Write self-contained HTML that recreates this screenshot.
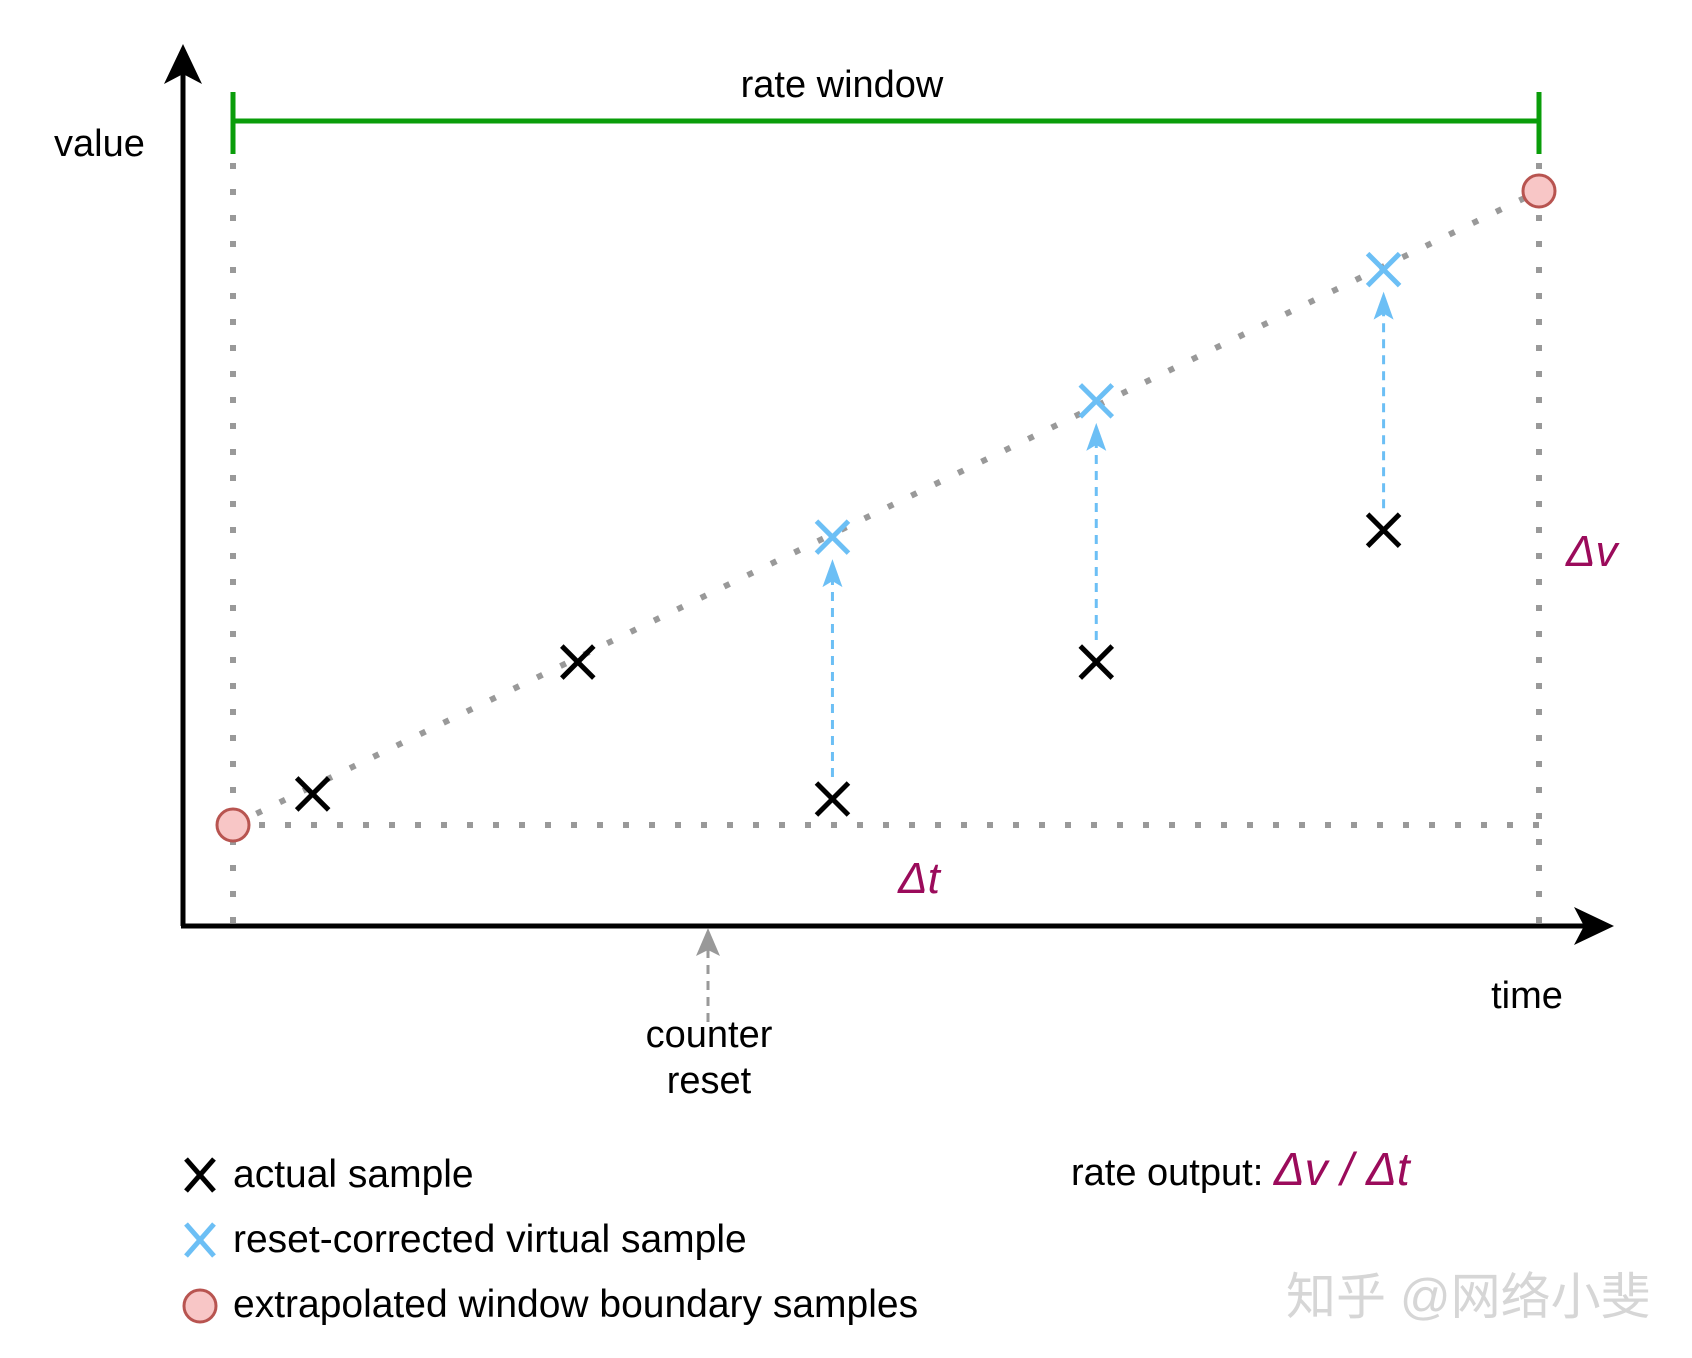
<!DOCTYPE html>
<html><head><meta charset="utf-8"><style>
html,body{margin:0;padding:0;background:#fff;width:1692px;height:1358px;overflow:hidden}
svg{display:block}
text{font-family:"Liberation Sans","Noto Sans CJK SC",sans-serif;fill:#000}
.dv{fill:#9b0b5b;font-style:italic}
</style></head><body>
<svg id="chart" width="1692" height="1358" viewBox="0 0 1692 1358">
<g id="static">
<line x1="183" y1="926" x2="183" y2="70" stroke="#000" stroke-width="5"/>
<polygon points="183,44 164,84 183,74 202,84" fill="#000"/>
<line x1="181" y1="926" x2="1592" y2="926" stroke="#000" stroke-width="5"/>
<polygon points="1614,926 1574,907 1584,926 1574,945" fill="#000"/>
<text x="54" y="156" font-size="38">value</text>
<text x="1527" y="1008" font-size="38" text-anchor="middle">time</text>
<text x="842" y="97" font-size="38" text-anchor="middle">rate window</text>
<text x="1566" y="566" font-size="44" class="dv">Δv</text>
<text x="919" y="893" font-size="44" class="dv" text-anchor="middle">Δt</text>
<line x1="708" y1="1022" x2="708" y2="950" stroke="#999" stroke-width="3" stroke-dasharray="9,7"/>
<polygon points="708,928 696,956 708,950 720,956" fill="#999"/>
<text x="709" y="1047" font-size="38" text-anchor="middle">counter</text>
<text x="709" y="1093" font-size="38" text-anchor="middle">reset</text>
<g>
<g stroke="#000" stroke-width="5"><line x1="186" y1="1159" x2="214" y2="1191"/><line x1="214" y1="1159" x2="186" y2="1191"/></g>
<text x="233" y="1187" font-size="39">actual sample</text>
<g stroke="#6cbff5" stroke-width="5"><line x1="186" y1="1224" x2="214" y2="1256"/><line x1="214" y1="1224" x2="186" y2="1256"/></g>
<text x="233" y="1252" font-size="39">reset-corrected virtual sample</text>
<circle cx="200" cy="1306" r="16" fill="#f8c6c6" stroke="#b85450" stroke-width="3"/>
<text x="233" y="1317" font-size="39">extrapolated window boundary samples</text>
</g>
<text x="1071" y="1185" font-size="38">rate output: <tspan class="dv" font-size="46">Δv / Δt</tspan></text>
<text x="1286" y="1314" font-size="50" style="fill:#d6d6d6">知乎 @网络小斐</text>
</g>
<g id="marks"></g>
</svg>
<script>
// window times (0..100) and values
const windowT = [0, 100];
const boundaryV = [0, 100];
const actualT = [6.1, 26.4, 45.9, 66.1, 88.1];
const actualV = [4.9, 25.7, 4.1, 25.7, 46.5];
const virtualT = [45.9, 66.1, 88.1];
const virtualV = [45.4, 66.9, 87.6];

const X0 = 233, X1 = 1539, Y0 = 825, Y1 = 191;
function x(t){ return X0 + (t - windowT[0]) / (windowT[1] - windowT[0]) * (X1 - X0); }
function y(v){ return Y0 - (v - boundaryV[0]) / (boundaryV[1] - boundaryV[0]) * (Y0 - Y1); }

const NS = 'http://www.w3.org/2000/svg';
const g = document.getElementById('marks');
function mk(tag, attrs){ const e = document.createElementNS(NS, tag); for (const k in attrs) e.setAttribute(k, attrs[k]); g.appendChild(e); return e; }

const xa = x(windowT[0]), xb = x(windowT[1]), ya = y(boundaryV[0]), yb = y(boundaryV[1]);
const dot = {stroke:'#999', 'stroke-width':6, 'stroke-dasharray':'6,20'};

let e = mk('line', Object.assign({x1:xa, y1:yb - 28, x2:xa, y2:926}, dot));


e = mk('line', Object.assign({x1:xb, y1:yb - 28, x2:xb, y2:926}, dot));


e = mk('line', Object.assign({x1:xa, y1:ya, x2:xb, y2:ya}, dot));


e = mk('line', Object.assign({x1:xa, y1:ya, x2:xb, y2:yb}, dot));



e = mk('line', {x1:xa, y1:121, x2:xb, y2:121, stroke:'#0a9d0a', 'stroke-width':5});


e = mk('line', {x1:xa, y1:92, x2:xa, y2:154, stroke:'#0a9d0a', 'stroke-width':5});


e = mk('line', {x1:xb, y1:92, x2:xb, y2:154, stroke:'#0a9d0a', 'stroke-width':5});



for (let i = 0; i < virtualT.length; i++) {
  const cx = x(virtualT[i]);
  const j = actualT.indexOf(virtualT[i]);
  const yStart = y(actualV[j]) - 22, yTip = y(virtualV[i]) + 22;
  e = mk('line', {x1:cx, y1:yStart, x2:cx, y2:yTip + 20, stroke:'#6cbff5', 'stroke-width':3, 'stroke-dasharray':'9,7'});
  
  
  e = mk('polygon', {points:`${cx},${yTip} ${cx-10},${yTip+28} ${cx},${yTip+22} ${cx+10},${yTip+28}`, fill:'#6cbff5'});
  
  
}

function cross(cx, cy, color, name){
  const grp = document.createElementNS(NS, 'g');
  grp.setAttribute('stroke', color); grp.setAttribute('stroke-width', 5);
  
  
  const s = 16;
  [[cx-s,cy-s,cx+s,cy+s],[cx+s,cy-s,cx-s,cy+s]].forEach(p => {
    const l = document.createElementNS(NS, 'line');
    l.setAttribute('x1', p[0]); l.setAttribute('y1', p[1]); l.setAttribute('x2', p[2]); l.setAttribute('y2', p[3]);
    grp.appendChild(l);
  });
  g.appendChild(grp);
}
for (let i = 0; i < actualT.length; i++) cross(x(actualT[i]), y(actualV[i]), '#000', 'actual-sample');
for (let i = 0; i < virtualT.length; i++) cross(x(virtualT[i]), y(virtualV[i]), '#6cbff5', 'virtual-sample');

for (let i = 0; i < windowT.length; i++) {
  e = mk('circle', {cx:x(windowT[i]), cy:y(boundaryV[i]), r:16, fill:'#f8c6c6', stroke:'#b85450', 'stroke-width':3});
  
  
}
</script>
</body></html>
